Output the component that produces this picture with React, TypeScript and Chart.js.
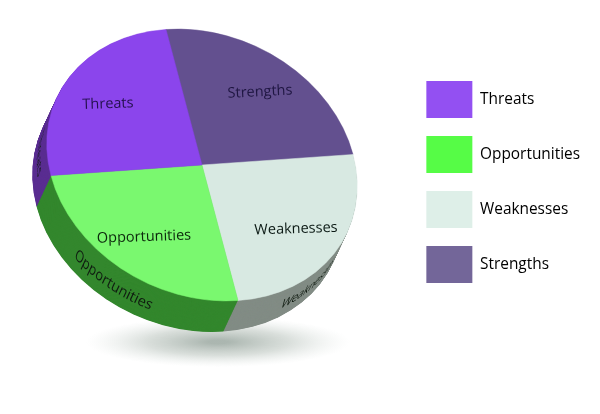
import React, { useEffect, useRef } from "react";
import { Chart, registerables } from "chart.js";

Chart.register(...registerables);

// Data: clockwise from the top of the disc
const categories = ["Strengths", "Weaknesses", "Opportunities", "Threats"];
const shares = [25, 25, 25, 25];

// Colours, same order as categories
const topColors = ["#63508f", "#d8e9e2", "#7af86f", "#8b45ec"];
const wallColors = ["#4a3a75", "#828c85", "#33872d", "#5a2e91"];
const legendColors = ["#736699", "#deefe8", "#56fc46", "#9350f2"];
const textColors = ["#1f1642", "#0c1a15", "#0c280c", "#24104e"];

// Projection of the disc
const DISC = { cx: 202, cy: 165, ux: 151, uy: -10.5, vx: 36, vy: 135.5, dx: -14.5, dy: 31 };
const FONT = '"Open Sans", sans-serif';

// Where the name on each slice sits, relative to the disc centre
const topLabelOffsets = [[58, -73, -3], [94, 64, -2], [-58, 72, -2], [-94, -61, -2]];
// Start angle (degrees) of the names printed round the wall
const wallLabelStarts: (number | null)[] = [null, 69, 153, 206];

const discPlugin = {
  id: "disc3d",
  beforeDatasetsDraw(chart: any) {
    const ctx = chart.ctx;
    const arcs = chart.getDatasetMeta(0).data;
    const { x: ax, y: ay, outerRadius: R } = arcs[0];
    const D = DISC;

    // ground shadow
    ctx.save();
    ctx.translate(218, 342);
    ctx.scale(1, 0.19);
    const g = ctx.createRadialGradient(0, 0, 10, 0, 0, 132);
    g.addColorStop(0, "rgba(120,138,128,0.62)");
    g.addColorStop(0.5, "rgba(150,165,155,0.36)");
    g.addColorStop(1, "rgba(200,210,205,0)");
    ctx.fillStyle = g;
    ctx.beginPath();
    ctx.arc(0, 0, 132, 0, Math.PI * 2);
    ctx.fill();
    ctx.restore();

    const setDisc = (tx: number, ty: number) => {
      ctx.setTransform(D.ux / R, D.uy / R, D.vx / R, D.vy / R,
        D.cx + tx - (D.ux * ax + D.vx * ay) / R,
        D.cy + ty - (D.uy * ax + D.vy * ay) / R);
    };

    // wall: the sectors swept along the extrusion
    ctx.save();
    const steps = 68;
    for (let k = steps; k >= 1; k--) {
      setDisc((D.dx * k) / steps, (D.dy * k) / steps);
      arcs.forEach((a: any, i: number) => {
        ctx.fillStyle = wallColors[i];
        ctx.beginPath();
        ctx.moveTo(ax, ay);
        ctx.arc(ax, ay, R, a.startAngle, a.endAngle);
        ctx.closePath();
        ctx.fill();
      });
    }
    ctx.restore();

    // names round the wall, clipped to the lower outline
    ctx.save();
    setDisc(D.dx, D.dy);
    ctx.beginPath();
    ctx.arc(ax, ay, R, 0, Math.PI * 2);
    ctx.setTransform(1, 0, 0, 1, 0, 0);
    ctx.clip();
    ctx.font = `14.5px ${FONT}`;
    ctx.textAlign = "left";
    ctx.textBaseline = "alphabetic";
    ctx.fillStyle = "#0f1a10";
    const len = Math.hypot(D.dx, D.dy);
    const Reff = 159;
    categories.forEach((name, i) => {
      const start = wallLabelStarts[i];
      if (start === null) return;
      let th = (start * Math.PI) / 180;
      for (const ch of name) {
        const c = Math.cos(th), s = Math.sin(th);
        const t = 0.68;
        const px = D.cx + c * D.ux + s * D.vx + t * D.dx;
        const py = D.cy + c * D.uy + s * D.vy + t * D.dy;
        const tx = (s * D.ux - c * D.vx) / Reff;
        const ty = (s * D.uy - c * D.vy) / Reff;
        ctx.setTransform(tx, ty, D.dx / len, D.dy / len, px, py);
        ctx.fillText(ch, 0, 0);
        th -= ctx.measureText(ch).width / Reff;
      }
    });
    ctx.restore();

    // the top face is drawn by the pie itself, under this transform
    ctx.save();
    setDisc(0, 0);
  },
  afterDatasetsDraw(chart: any) {
    const ctx = chart.ctx;
    ctx.restore();
    ctx.save();
    ctx.font = `14.5px ${FONT}`;
    ctx.textAlign = "center";
    ctx.textBaseline = "middle";
    categories.forEach((name, i) => {
      const [ox, oy, rot] = topLabelOffsets[i];
      ctx.save();
      ctx.translate(DISC.cx + ox, DISC.cy + oy);
      ctx.rotate((rot * Math.PI) / 180);
      ctx.fillStyle = textColors[i];
      ctx.fillText(name, 0, 0);
      ctx.restore();
    });
    ctx.restore();
  },
};

export default function App() {
  const ref = useRef<HTMLCanvasElement>(null);
  useEffect(() => {
    const chart = new Chart(ref.current!, {
      type: "pie",
      data: {
        labels: categories,
        datasets: [{
          data: shares,
          backgroundColor: topColors,
          borderColor: topColors,
          borderWidth: 0.6,
          clip: false,
        } as any],
      },
      plugins: [discPlugin],
      options: {
        responsive: false,
        animation: false,
        events: [],
        rotation: 0,
        layout: { padding: { top: 63, right: 10 } },
        plugins: {
          tooltip: { enabled: false },
          legend: {
            position: "right",
            align: "start",
            reverse: true,
            labels: {
              boxWidth: 46,
              boxHeight: 37,
              padding: 18,
              color: "#111111",
              font: { family: FONT, size: 15.4 },
              generateLabels: () =>
                categories.map((text, i) => ({
                  text,
                  index: i,
                  datasetIndex: 0,
                  fillStyle: legendColors[i],
                  strokeStyle: legendColors[i],
                  lineWidth: 0,
                  hidden: false,
                })),
            },
          },
        },
      } as any,
    });
    return () => chart.destroy();
  }, []);
  return (
    <div style={{ position: "fixed", left: 0, top: 0, width: 600, height: 414, background: "#fff" }}>
      <canvas ref={ref} width={600} height={414} style={{ display: "block" }} />
    </div>
  );
}
